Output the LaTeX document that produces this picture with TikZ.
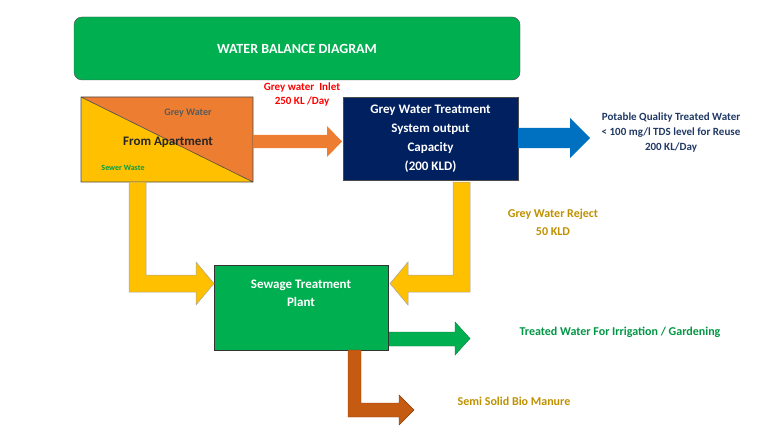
\documentclass[tikz,border=0pt]{standalone}
\usepackage{fontspec}
\setmainfont{Carlito}
\begin{document}
\begin{tikzpicture}[x=1pt,y=-1pt,
  lbl/.style={font=\bfseries\fontsize{12}{14}\selectfont,align=center},
  arr/.style={draw=gray!70,line width=0.5pt}]
\definecolor{tgreen}{HTML}{00B050}
\definecolor{torange}{HTML}{ED7D31}
\definecolor{tyellow}{HTML}{FFC000}
\definecolor{tnavy}{HTML}{002060}
\definecolor{tblue}{HTML}{0070C0}
\definecolor{tgold}{HTML}{BF9000}
\definecolor{tbrown}{HTML}{C55A11}
\definecolor{tdark}{HTML}{1F3864}
\useasboundingbox (0,0) rectangle (768,433);
% title
\node[draw=gray!60!black,fill=tgreen,rounded corners=8pt,minimum width=446pt,minimum height=63pt,
  text=white,font=\bfseries\fontsize{14}{16}\selectfont] (title) at (297,48.5) {WATER BALANCE DIAGRAM};
% apartment box
\fill[tyellow] (81,97) -- (253,182) -- (81,182) -- cycle;
\fill[torange] (81,97) -- (253,97) -- (253,182) -- cycle;
\draw[gray!60!black,line width=0.6pt] (81,97) rectangle (253,182) (81,97) -- (253,182);
\node[minimum width=172pt,minimum height=85pt] (apt) at (167,139.5) {};
\node[font=\bfseries\fontsize{10}{12}\selectfont,text=gray!70!black] (gw) at (188,113) {Grey Water};
\node[font=\bfseries\fontsize{13}{15}\selectfont,text=black!85] (fa) at (168,142) {From Apartment};
\node[font=\bfseries\fontsize{8}{10}\selectfont,text=tgreen!90!black] (sw) at (123,168) {Sewer Waste};
% GWTS
\node[draw=gray!60!black,fill=tnavy,minimum width=175pt,minimum height=83pt,text=white,lbl,
  font=\bfseries\fontsize{13}{19}\selectfont] (gwts) at (430.5,138.5)
  {Grey Water Treatment\\System output\\Capacity\\(200 KLD)};
% STP
\node[draw=black!80,fill=tgreen,minimum width=174pt,minimum height=85pt] (stp) at (301.5,307.5) {};
\node[text=white,font=\bfseries\fontsize{13}{18}\selectfont,align=center] (stpt) at (301,293) {Sewage Treatment\\Plant};
% orange arrow
\fill[torange] (253,135) -- (327,135) -- (327,126) -- (342,141.5) -- (327,157) -- (327,148) -- (253,148) -- cycle;
% blue arrow
\fill[tblue] (518,128) -- (570,128) -- (570,118) -- (590,138) -- (570,158) -- (570,148) -- (518,148) -- cycle;
% left yellow L arrow
\filldraw[fill=tyellow,arr] (129,182) -- (146,182) -- (146,275) -- (196,275) -- (196,262) -- (214,283.5) -- (196,305) -- (196,292) -- (129,292) -- cycle;
% right yellow L arrow
\filldraw[fill=tyellow,arr] (470,182) -- (453,182) -- (453,275) -- (408,275) -- (408,262) -- (390,283.5) -- (408,305) -- (408,292) -- (470,292) -- cycle;
% green arrow
\filldraw[fill=tgreen,draw=tgreen!70!black,line width=0.4pt] (389,332) -- (455,332) -- (455,322) -- (470,338.5) -- (455,355) -- (455,346) -- (389,346) -- cycle;
% brown arrow
\filldraw[fill=tbrown,draw=tbrown!70!black,line width=0.4pt] (348,350) -- (361,350) -- (361,403) -- (399,403) -- (399,395) -- (414,410) -- (399,425) -- (399,417) -- (348,417) -- cycle;
% labels
\node[text=red,font=\bfseries\fontsize{11}{14}\selectfont,align=center] (inlet) at (302,95) {Grey water\ \ Inlet\\250 KL /Day};
\node[text=tdark,font=\bfseries\fontsize{11}{15}\selectfont,align=center] (pot) at (671,133) {Potable Quality Treated Water\\< 100 mg/l TDS level for Reuse\\200 KL/Day};
\node[text=tgold,font=\bfseries\fontsize{12}{18}\selectfont,align=center] (rej) at (553,222) {Grey Water Reject\\50 KLD};
\node[text=tgreen!85!black,font=\bfseries\fontsize{12}{14}\selectfont] (irr) at (620,332) {Treated Water For Irrigation / Gardening};
\node[text=tgold,font=\bfseries\fontsize{12}{14}\selectfont] (man) at (514,401) {Semi Solid Bio Manure};
\end{tikzpicture}
\end{document}
